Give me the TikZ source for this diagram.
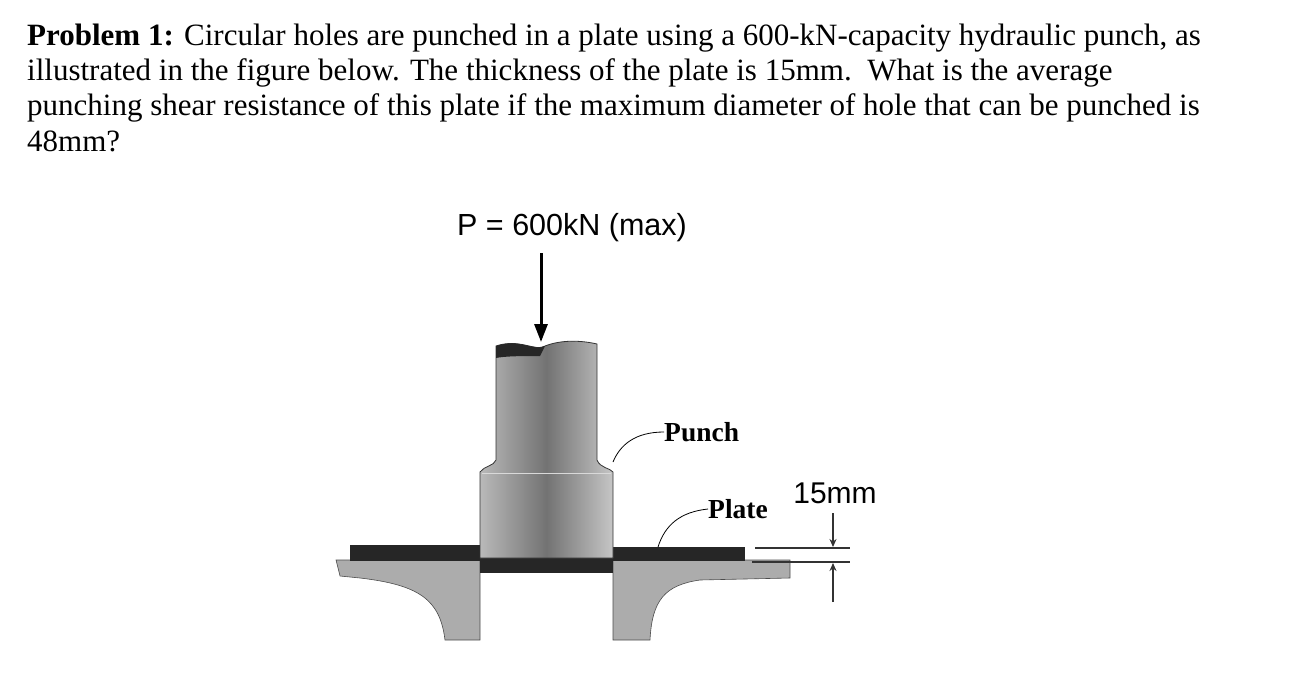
\documentclass[tikz,border=0pt]{standalone}
\usepackage{fontspec}
\setmainfont{Liberation Serif}
\newfontfamily\arialf{Liberation Sans}
\usetikzlibrary{arrows.meta}
\begin{document}
\begin{tikzpicture}[x=1pt,y=-1pt,
  tline/.style={anchor=base west,inner sep=0pt,font=\fontsize{31}{35}\selectfont},
  lab/.style={inner sep=0pt,font=\fontsize{27.5}{30}\selectfont\bfseries},
  metal/.style={left color=gray!55,right color=gray!45,middle color=gray!90!black},
  plate/.style={fill=black!85},
  die/.style={fill=gray!65,draw=black!70,line width=0.6pt},
  dim/.style={line width=1.3pt,gray!40!black}]
\useasboundingbox (0,0) rectangle (1292,682);
\node[tline] (l1) at (27,46) {\textbf{Problem 1:} Circular holes are punched in a plate using a 600-kN-capacity hydraulic punch, as};
\node[tline] (l2) at (27,81) {illustrated in the figure below. The thickness of the plate is 15mm.\ \ What is the average};
\node[tline] (l3) at (27,116) {punching shear resistance of this plate if the maximum diameter of hole that can be punched is};
\node[tline] (l4) at (27,151) {48mm?};
% load
\node[inner sep=0pt,font=\arialf\fontsize{30.5}{34}\selectfont] (P) at (572,228) {P = 600kN (max)};
\coordinate (a1) at (541,253);
\coordinate (a2) at (541,342);
\draw[line width=3pt,-{Triangle[length=18pt,width=13pt]}] (a1) -- (a2);
% dies
\draw[die] (336,560) -- (480,560) -- (480,640) -- (445,640) .. controls (440,600) and (420,585) .. (360,578) -- (340,576) -- cycle;
\draw[die] (613,560) -- (790,560) -- (790,578) -- (700,580) .. controls (665,585) and (652,600) .. (650,640) -- (613,640) -- cycle;
% plate
\fill[plate] (350,545) rectangle (480,561);
\fill[plate] (613,547) rectangle (745,561);
\fill[plate] (480,558) rectangle (613,573);
% punch
\path[metal,draw=black!80,line width=0.8pt] (496,346) .. controls (520,338) and (535,352) .. (545,346) .. controls (560,340) and (580,340) .. (597,344)
  -- (597,460) .. controls (600,468) and (610,468) .. (613,472) -- (613,558) -- (480,558) -- (480,472) .. controls (484,466) and (494,466) .. (496,460) -- cycle;
\fill[black!85] (496,346) .. controls (520,338) and (535,352) .. (545,346) -- (540,356) .. controls (525,356) and (505,356) .. (496,358) -- cycle;
\draw[white!70!gray,line width=0.5pt] (482,473) -- (611,473);
% labels
\node[lab,anchor=west] (punch) at (664,432) {Punch};
\node[lab,anchor=west] (plate) at (708,509) {Plate};
\draw[line width=0.8pt] (punch.west) .. controls (635,432) and (620,445) .. (613,462);
\draw[line width=0.8pt] (plate.west) .. controls (680,512) and (665,525) .. (658,547);
% dimension
\node[inner sep=0pt,font=\arialf\fontsize{30}{34}\selectfont] (t15) at (835,493) {15mm};
\coordinate (h1a) at (755,548); \coordinate (h1b) at (850,548);
\coordinate (h2a) at (752,562); \coordinate (h2b) at (850,562);
\draw[dim] (h1a) -- (h1b);
\draw[dim] (h2a) -- (h2b);
\coordinate (v1) at (833,513); \coordinate (v2) at (833,547);
\coordinate (v3) at (833,602); \coordinate (v4) at (833,563);
\draw[dim,-{Stealth[length=8pt,width=7pt]}] (v1) -- (v2);
\draw[dim,-{Stealth[length=8pt,width=7pt]}] (v3) -- (v4);
\end{tikzpicture}
\end{document}
